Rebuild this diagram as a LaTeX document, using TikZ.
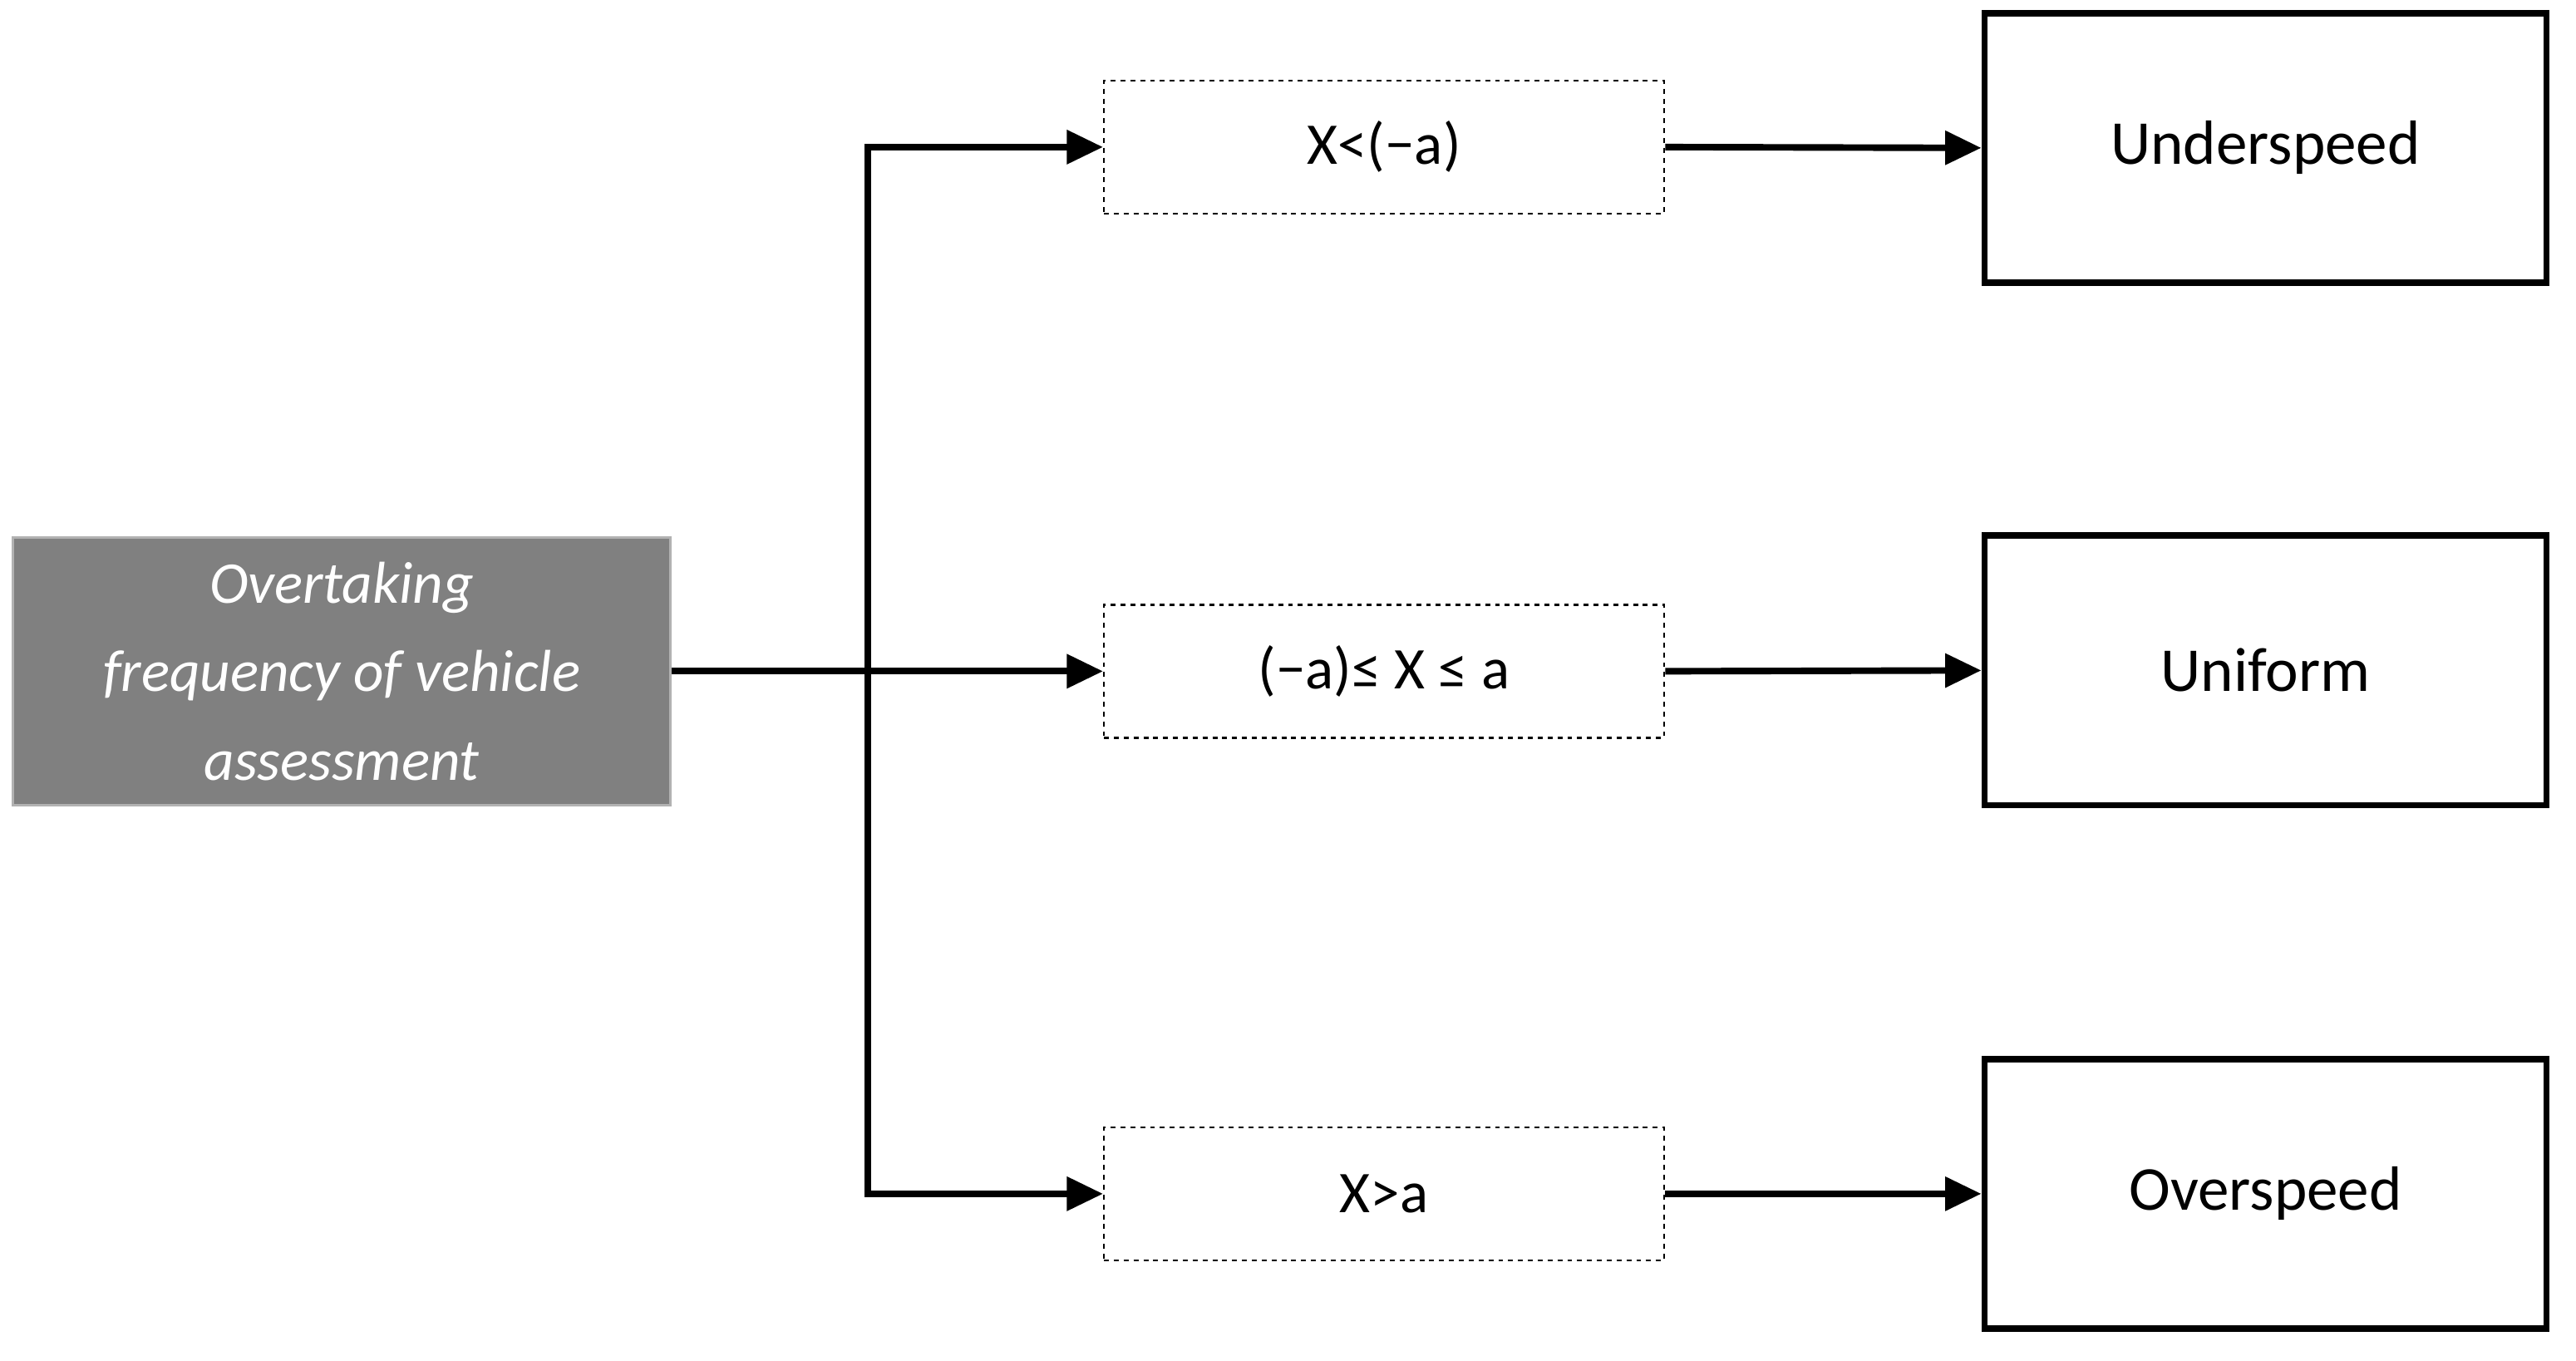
\documentclass[tikz,border=0pt]{standalone}
\usepackage{fontspec}
\setmainfont{Carlito}
\usetikzlibrary{arrows.meta}
\begin{document}
\begin{tikzpicture}[x=1pt,y=-1pt,
  src/.style={draw=gray!60,line width=1.5pt,fill=gray!100!black!50,minimum width=400pt,minimum height=163pt,inner sep=0pt,text=white,font=\fontsize{36}{54}\selectfont\itshape,align=center},
  cond/.style={draw,dashed,line width=1.2pt,minimum width=341pt,minimum height=81pt,inner sep=0pt,font=\fontsize{36}{43}\selectfont},
  res/.style={draw,line width=4pt,minimum width=342pt,minimum height=164pt,inner sep=0pt,font=\fontsize{38}{46}\selectfont},
  arr/.style={line width=4pt,-{Triangle[length=22pt,width=20pt]}},
  ln/.style={line width=4pt}]
\useasboundingbox (0,0) rectangle (1568,828);
\node[src,fill={rgb,255:red,128;green,128;blue,128}] (s) at (208,408.5) {Overtaking\\frequency of vehicle\\assessment};
\node[cond] (c1) at (842.5,89.5) {X<(−a)};
\node[cond] (c2) at (842.5,408.5) {(−a)≤ X ≤ a};
\node[cond] (c3) at (842.5,726.5) {X>a};
\node[res] (r1) at (1379,90) {Underspeed};
\node[res] (r2) at (1379,408) {Uniform};
\node[res] (r3) at (1379,726.5) {Overspeed};
\coordinate (j) at (528,408.5);
\coordinate (jt) at (528,89.5);
\coordinate (jb) at (528,726.5);
\draw[ln] (s.east) -- (j);
\draw[arr] (j) -- (c2.west);
\draw[arr,rounded corners=0] (jt) ++(0,0) -- (c1.west);
\draw[arr] (jb) -- (c3.west);
\draw[ln,line cap=rect] (jt) -- (jb);
\draw[arr] (c1.east) -- (r1.west);
\draw[arr] (c2.east) -- (r2.west);
\draw[arr] (c3.east) -- (r3.west);
\end{tikzpicture}
\end{document}
